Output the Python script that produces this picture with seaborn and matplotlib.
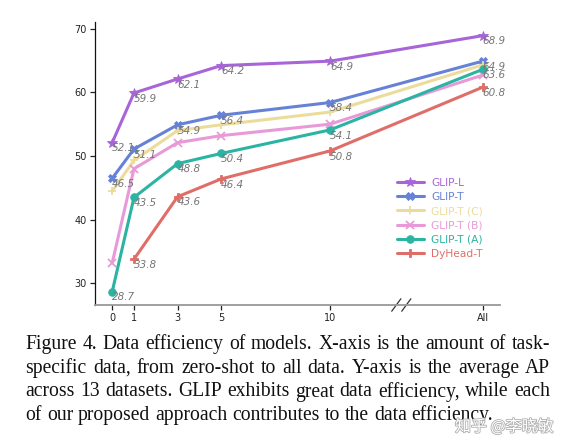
import numpy as np
import pandas as pd
import matplotlib
matplotlib.use('Agg')
import matplotlib.pyplot as plt
import matplotlib.patheffects as pe
import seaborn as sns

# data
x_pos = [0, 1, 3, 5, 10, 17]
x_labels = ['0', '1', '3', '5', '10', 'All']

glip_l = [52.1, 59.9, 62.1, 64.2, 64.9, 68.9]
glip_t = [46.5, 51.1, 54.9, 56.4, 58.4, 64.9]
glip_t_c = [44.5, 49.3, 54.0, 54.9, 56.9, 64.3]
glip_t_b = [33.2, 48.0, 52.1, 53.2, 55.0, 62.7]
glip_t_a = [28.7, 43.5, 48.8, 50.4, 54.1, 63.6]
dyhead_t = [np.nan, 33.8, 43.6, 46.4, 50.8, 60.8]

names = ['GLIP-L', 'GLIP-T', 'GLIP-T (C)', 'GLIP-T (B)', 'GLIP-T (A)', 'DyHead-T']
series = [glip_l, glip_t, glip_t_c, glip_t_b, glip_t_a, dyhead_t]
colors = ['#a865d8', '#6682d6', '#ecdc9c', '#e89ad8', '#2bb3a3', '#e06e68']
markers = ['*', 'X', '+', 'x', 'o', 'P']
annotate = [True, True, False, False, True, True]

caption = ["Figure 4. Data efficiency of models. X-axis is the amount of task-",
           "specific data, from zero-shot to all data.  Y-axis is the average AP",
           "across 13 datasets. GLIP exhibits great data efficiency, while each",
           "of our proposed approach contributes to the data efficiency."]

sns.set_style('ticks')
plt.rcParams['font.family'] = ['DejaVu Sans']

W, H = 577, 445
fig = plt.figure(figsize=(W / 100, H / 100), dpi=100, facecolor='white')
ax = fig.add_axes([95 / W, 1 - 305 / H, 405 / W, 283 / H])

rows = []
for name, vals in zip(names, series):
    for x, v in zip(x_pos, vals):
        rows.append({'model': name, 'x': x, 'ap': v})
df = pd.DataFrame(rows).dropna()

for name, col, mk, ann in zip(names, colors, markers, annotate):
    d = df[df['model'] == name]
    ms = 7 if mk == '*' else (6 if mk in ('+', 'x') else 5.5)
    sns.lineplot(data=d, x='x', y='ap', ax=ax, color=col, marker=mk, markersize=ms,
                 markeredgecolor=col, markeredgewidth=1.3 if mk in ('+', 'x') else 0.6,
                 linewidth=2.2, label=name)
    if ann:
        for x, v in zip(d['x'], d['ap']):
            ax.annotate(f'{v:.1f}', (x, v), xytext=(0, -0.5), textcoords='offset points',
                        ha='left', va='top', fontsize=7.5, style='italic', color='#777777')

ax.set_xlim(-0.79, 17.8)
ax.set_ylim(26.6, 71.05)
ax.set_xticks(x_pos)
ax.set_xticklabels(x_labels)
ax.set_yticks([30, 40, 50, 60, 70])
ax.set_xlabel('')
ax.set_ylabel('')
ax.tick_params(labelsize=7, length=3.5, width=0.9, colors='#222222', pad=2.5)
sns.despine(ax=ax)
ax.spines['left'].set_color('#111111')
ax.spines['left'].set_linewidth(0.9)
ax.spines['bottom'].set_color('#999999')
ax.spines['bottom'].set_linewidth(1.3)

# axis break marks
trans = ax.get_xaxis_transform()
for bx in (12.83, 13.29):
    ax.plot([bx, bx + 0.42], [-0.022, 0.022], transform=trans, color='#333333',
            lw=0.9, clip_on=False)

leg = ax.legend(loc='upper left', bbox_to_anchor=(0.746, 0.45), frameon=False,
                fontsize=7.7, labelcolor='linecolor', handlelength=2.5,
                handletextpad=0.7, labelspacing=0.4, borderpad=0, borderaxespad=0)

# caption, justified
renderer = fig.canvas.get_renderer()
x0, x1 = 25.5, 550
probe = fig.text(0, 0, caption[3], fontsize=14, family='Liberation Serif')
nat = probe.get_window_extent(renderer).width
probe.remove()
fs = 14 * 470 / nat
baselines = [349, 372.7, 396.5, 420]
for i, (line, yb) in enumerate(zip(caption, baselines)):
    words = line.split()
    texts = [fig.text(0, 1 - yb / H, w, fontsize=fs, family='Liberation Serif',
                      va='baseline', ha='left', color='#111111') for w in words]
    widths = [t.get_window_extent(renderer).width for t in texts]
    if i < len(caption) - 1:
        gap = (x1 - x0 - sum(widths)) / (len(words) - 1)
    else:
        gap = fs * 100 / 72 * 0.25
    x = x0
    for t, w in zip(texts, widths):
        t.set_x(x / W)
        x += w + gap

wm = fig.text(455 / W, 1 - 427 / H, '知乎 @李晓敏', fontsize=11.5, color='white',
              family=['Noto Sans CJK SC', 'DejaVu Sans'], va='center', ha='left')
wm.set_path_effects([pe.Stroke(linewidth=1.2, foreground='#b0b0b0'), pe.Normal()])

fig.savefig('out.png', dpi=100, facecolor='white')
